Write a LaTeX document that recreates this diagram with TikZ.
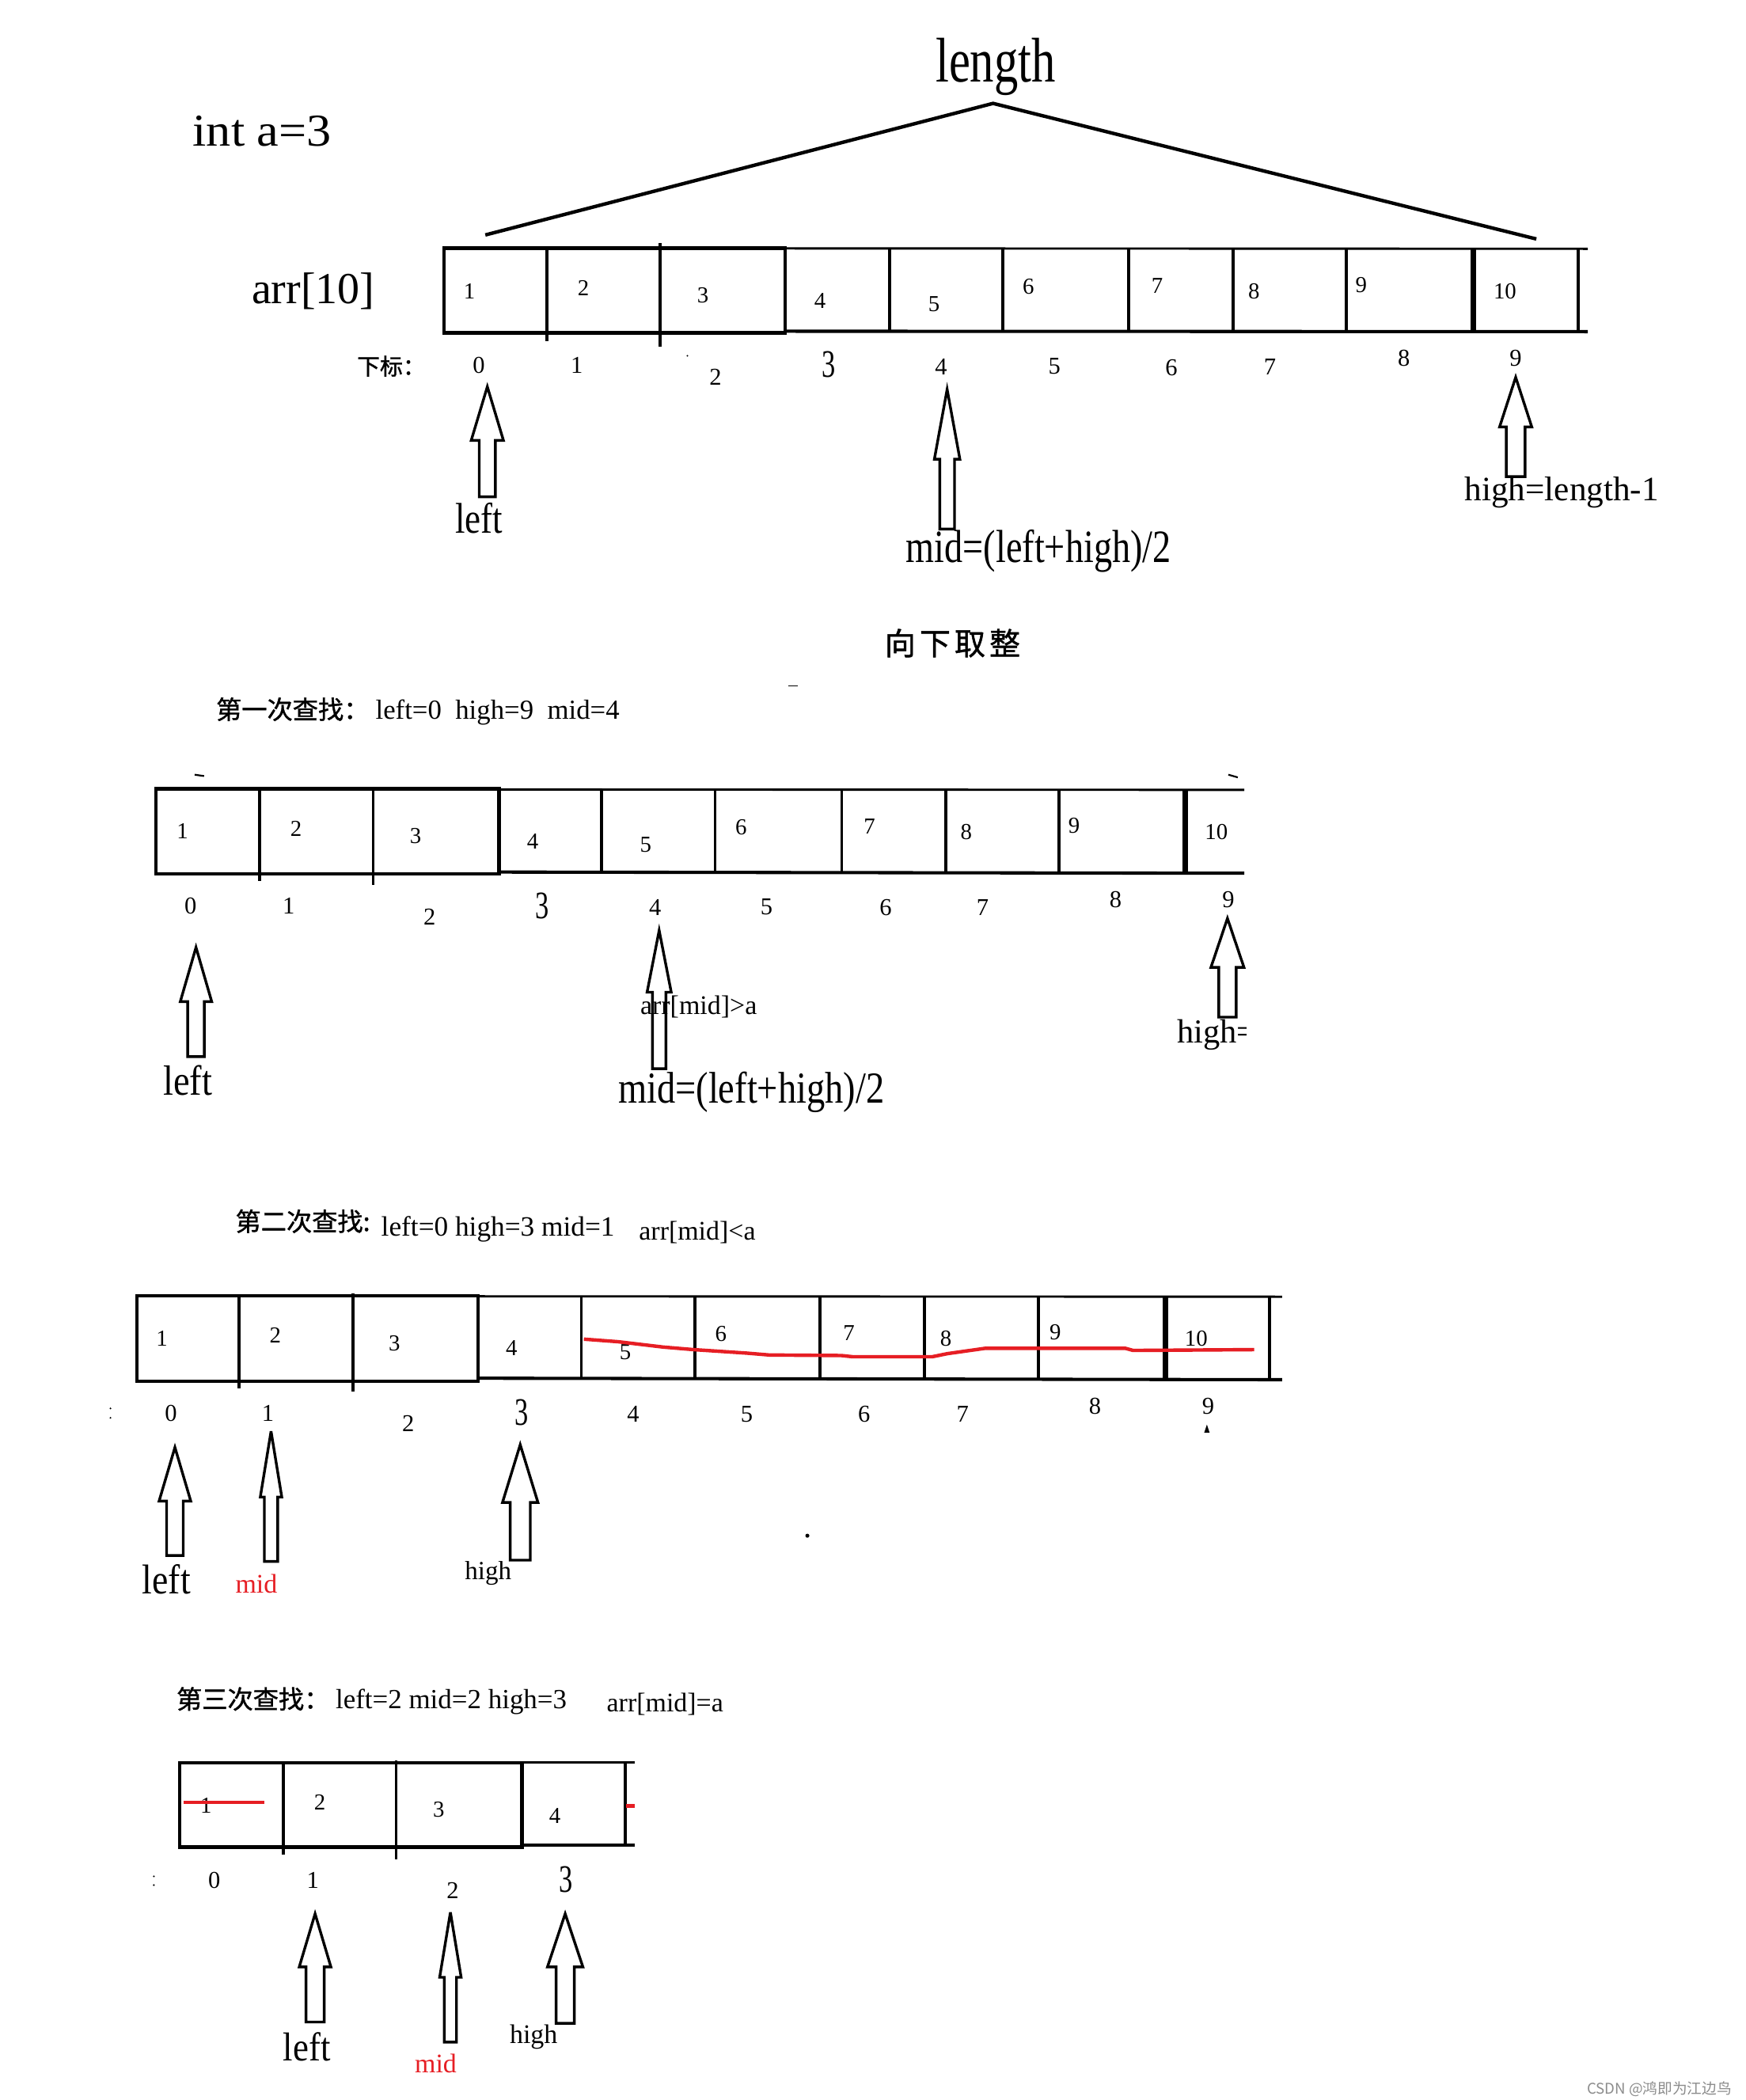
\documentclass[tikz,border=0pt]{standalone}
\usepackage{fontspec}
\usepackage{graphicx}
\setmainfont{Liberation Serif}
\newfontfamily\cjk{Noto Sans CJK SC}
\newfontfamily\cjkb{Noto Sans CJK SC}[FakeBold=1.2]
\newcommand\fsz[1]{\fontsize{#1}{#1}\selectfont}
\newcommand\cond[2]{\scalebox{#1}[1]{#2}}
\definecolor{myred}{RGB}{230,30,36}
\tikzset{
 lbl/.style={inner sep=0pt, outer sep=0pt},
 grpA/.style={line width=2.6pt},
 edgeT/.style={line width=1.7pt},
 edgeB/.style={line width=2.4pt},
 divider/.style={line width=2.2pt},
 thickdiv/.style={line width=4pt},
 blockarrow/.style={draw, line width=2pt, line join=miter, miter limit=6},
 redmark/.style={draw=myred, line width=2.6pt},
}
\newcommand\uparr[6]{\draw[blockarrow] (#1,#2) -- ({#1+#5},#3) -- ({#1+#6},#3) -- ({#1+#6},#4) -- ({#1-#6},#4) -- ({#1-#6},#3) -- ({#1-#5},#3) -- cycle;}
\begin{document}
\begin{tikzpicture}[x=1pt,y=-1pt]
\useasboundingbox (0,0) rectangle (1300,1564.1);
\fill[white] (0,0) rectangle (1300,1564.1);

% ---------------- top ----------------
\node[lbl,anchor=base west] (inta) at (143.6,108.5) {\fsz{34}\cond{1.08}{int a=3}};
\node[lbl,anchor=base west] (len) at (697,61.3) {\fsz{47}\cond{0.76}{length}};
\draw[line width=2.6pt, line join=round] (361.5,175) -- (739.7,77) -- (1144.4,178);
\node[lbl,anchor=base west] (arrname) at (187.5,226) {\fsz{33}arr[10]};

% array 1
\draw[grpA] (330.6,184.8) rectangle (585,248);
\draw[edgeT] (585,185) -- (1182.7,185.3);
\draw[edgeB] (585,246.7) -- (1182.7,247);
\draw[divider] (407.5,185) -- (407.5,254);
\draw[divider] (491.7,181) -- (491.7,258);
\foreach \x in {662.7,747,840.7,918.6,1003,1175.4} \draw[divider] (\x,185) -- (\x,247);
\draw[thickdiv] (1097.6,185) -- (1097.6,247);
\foreach \x/\y/\t [count=\i] in {349.6/217/1, 434.6/214.6/2, 523.6/220/3, 610.8/224/4, 695.7/226.4/5, 766/213.6/6, 862/213/7, 934/216.8/8, 1014/212/9, 1121/217/10}
  \node[lbl] (ca\i) at (\x,\y) {\fsz{17}\t};
\node[lbl,anchor=west] (xb) at (266,272.7) {\cjkb\fsz{17}下标：};
\foreach \x/\y/\t [count=\i] in {356.7/272/0, 429.7/272/1, 533/281/2, 701/273/4, 785.5/273/5, 872.6/273.6/6, 946/273/7, 1045.7/267/8, 1129/267/9}
  \node[lbl] (ia\i) at (\x,\y) {\fsz{18}\t};
\node[lbl] (ia3) at (617.5,271.5) {\fsz{29}\cond{0.7}{3}};
\fill (512,265) circle (0.7);

\uparr{363}{288}{328}{370}{12}{6}
\uparr{705.5}{290}{342}{394}{9.5}{5.5}
\uparr{1129}{281}{318}{355}{12}{7}
\node[lbl,anchor=base west] (leftA) at (339,397) {\fsz{32}\cond{0.83}{left}};
\node[lbl,anchor=base west] (midA) at (675,418.6) {\fsz{34.5}\cond{0.79}{mid=(left+high)/2}};
\node[lbl,anchor=base west] (highA) at (1091,373) {\fsz{25.5}high=length-1};
\node[lbl] (floor) at (709.5,479) {\cjkb\fsz{23}向\hspace{3pt}下\hspace{3pt}取\hspace{3pt}整};
\draw[line width=0.8pt] (587,511) -- (594,511);

% ---------------- first search ----------------
\node[lbl,anchor=base west] (s1c) at (161,535.5) {\cjkb\fsz{19}第一次查找：};
\node[lbl,anchor=base west] (s1l) at (279.8,535.5) {\fsz{20.5}left=0~~high=9~~mid=4};
\draw[line width=1.3pt] (145,577) -- (152,578);
\draw[line width=1.3pt] (915,577) -- (922,579);

\draw[grpA] (116,587.6) rectangle (371.7,651);
\draw[edgeT] (371.7,588) -- (926.8,588.3);
\draw[edgeB] (371.7,649.5) -- (926.8,650.4);
\draw[divider] (193.4,587.6) -- (193.4,656.4);
\draw[divider] (278,586) -- (278,659);
\foreach \x in {448,532.6,627,704.4,789} \draw[divider] (\x,588) -- (\x,650);
\draw[thickdiv] (883,588) -- (883,650);
\foreach \x/\y/\t [count=\i] in {136/619/1, 220.6/617/2, 309.5/622.6/3, 396.8/626.8/4, 481/629/5, 552/616/6, 647.7/615.5/7, 719.7/619.5/8, 800/614.7/9, 906/619.5/10}
  \node[lbl] (cb\i) at (\x,\y) {\fsz{17}\t};
\foreach \x/\y/\t [count=\i] in {142/674.5/0, 215/674.5/1, 320/683/2, 488/676/4, 571/675.7/5, 659.7/676/6, 732/675.7/7, 831/670/8, 915/670/9}
  \node[lbl] (ib\i) at (\x,\y) {\fsz{18}\t};
\node[lbl] (ib3) at (404,674.5) {\fsz{29}\cond{0.7}{3}};

\uparr{146}{705.6}{746}{787}{11.7}{6.2}
\uparr{914.3}{684}{720.5}{757.6}{12.3}{6.5}
\node[lbl,anchor=base west] (cmp1) at (477,755.6) {\fsz{20}arr[mid]>a};
\uparr{491}{693}{739}{796}{9}{5}
\node[lbl,anchor=base west] (leftB) at (121.5,815.6) {\fsz{31.5}\cond{0.87}{left}};
\node[lbl,anchor=base west] (midB) at (460.5,821.5) {\fsz{33}\cond{0.83}{mid=(left+high)/2}};
\begin{scope}
\clip (860,740) rectangle (928.5,795);
\node[lbl,anchor=base west] (highB) at (877,776.6) {\fsz{25}high=length-1};
\end{scope}

% ---------------- second search ----------------
\node[lbl,anchor=base west] (s2c) at (175.4,916.8) {\cjkb\fsz{19}第二次查找:};
\node[lbl,anchor=base west] (s2l) at (284,920.7) {\fsz{20.8}left=0 high=3 mid=1};
\node[lbl,anchor=base west] (s2r) at (476,923.3) {\fsz{20}arr[mid]<a};

\draw[grpA] (102,965) rectangle (356,1028.8);
\draw[edgeT] (356,965.5) -- (955,965.8);
\draw[edgeB] (356,1026.5) -- (955,1027.6);
\draw[divider] (178,965) -- (178,1034);
\draw[divider] (262.8,963.5) -- (262.8,1036.6);
\foreach \x in {433,517.6,610.7,688.6,773.4,945.5} \draw[divider] (\x,965.5) -- (\x,1027);
\draw[thickdiv] (868,965.5) -- (868,1027);
\foreach \x/\y/\t [count=\i] in {120.6/996.8/1, 205/994.7/2, 293.8/1000.3/3, 381/1004/4, 465.8/1007/5, 537/993.4/6, 632.4/992.8/7, 704.5/996.8/8, 786/992/9, 891/996.8/10}
  \node[lbl] (cc\i) at (\x,\y) {\fsz{17}\t};
\draw[redmark, line join=round] (434.9,997.4) -- (460.3,999.3) -- (494,1003.3) -- (516.7,1005.2) -- (556.2,1007.8) -- (573,1009.2) -- (626.7,1009.6) -- (635.2,1010.5) -- (694.4,1010.5) -- (705.7,1008.2) -- (734,1004.2) -- (838.2,1004.2) -- (844,1005.8) -- (934.2,1005.2);
\foreach \x/\y/\t [count=\i] in {127.4/1052.4/0, 199.6/1052.4/1, 304/1060.3/2, 471.7/1053.4/4, 556.2/1053.4/5, 643.6/1053.4/6, 717/1053.4/7, 815.7/1047.5/8, 900/1047.5/9}
  \node[lbl] (ic\i) at (\x,\y) {\fsz{18}\t};
\node[lbl] (ic3) at (388.5,1052) {\fsz{29}\cond{0.7}{3}};
\fill (82.3,1049) circle (0.7) (82.3,1056) circle (0.7);
\fill (897,1067) -- (901,1067) -- (899,1061) -- cycle;
\fill (601.4,1143.8) circle (1.5);

\uparr{130.3}{1078}{1118}{1158.5}{11.8}{6.2}
\uparr{201.9}{1066}{1115}{1163}{8}{5}
\uparr{387.5}{1076}{1119}{1162}{13.2}{7.5}
\node[lbl,anchor=base west] (leftC) at (106,1187) {\fsz{31}\cond{0.87}{left}};
\node[lbl,anchor=base west,text=myred] (midC) at (175.4,1186.6) {\fsz{20}mid};
\node[lbl,anchor=base west] (highC) at (346.3,1176.2) {\fsz{19.5}high};

% ---------------- third search ----------------
\node[lbl,anchor=base west] (s3c) at (131.5,1272.6) {\cjkb\fsz{19}第三次查找：};
\node[lbl,anchor=base west] (s3l) at (250,1272.6) {\fsz{20.6}left=2 mid=2 high=3};
\node[lbl,anchor=base west] (s3r) at (452,1274.7) {\fsz{20}arr[mid]=a};

\draw[grpA] (133.8,1312.8) rectangle (388.7,1375.8);
\draw[edgeT] (388.7,1312.4) -- (472.7,1312.4);
\draw[edgeB] (388.7,1374.3) -- (472.7,1374.3);
\draw[divider] (211,1312.8) -- (211,1381.5);
\draw[divider] (295,1311) -- (295,1384.6);
\draw[divider] (465.6,1312.4) -- (465.6,1374.3);
\foreach \x/\y/\t [count=\i] in {153.5/1344.7/1, 238.2/1342.5/2, 326.8/1347.8/3, 413.3/1352.2/4}
  \node[lbl] (cd\i) at (\x,\y) {\fsz{17}\t};
\draw[redmark] (136.6,1342.5) -- (196.8,1342.5);
\draw[redmark] (466.6,1345.1) -- (472.7,1345.1);
\foreach \x/\y/\t [count=\i] in {159.6/1400.6/0, 233/1400.6/1, 337.2/1408/2}
  \node[lbl] (id\i) at (\x,\y) {\fsz{18}\t};
\node[lbl] (id3) at (421.5,1400) {\fsz{29}\cond{0.7}{3}};
\fill (114.6,1397.5) circle (0.7) (114.6,1404) circle (0.7);

\uparr{234.7}{1425.4}{1465}{1506}{11.8}{6.8}
\uparr{335.5}{1424.3}{1472.7}{1521}{8}{4.5}
\uparr{421}{1425.4}{1465}{1507}{13.2}{6.8}
\node[lbl,anchor=base west] (leftD) at (211,1535) {\fsz{30}\cond{0.88}{left}};
\node[lbl,anchor=base west,text=myred] (midD) at (309,1543.6) {\fsz{20}mid};
\node[lbl,anchor=base west] (highD) at (379.7,1522) {\fsz{20}high};

% watermark
\node[lbl,text=black!45] (wm) at (1236,1556) {\cjk\fsz{11}CSDN @鸿即为江边鸟};
\end{tikzpicture}
\end{document}
